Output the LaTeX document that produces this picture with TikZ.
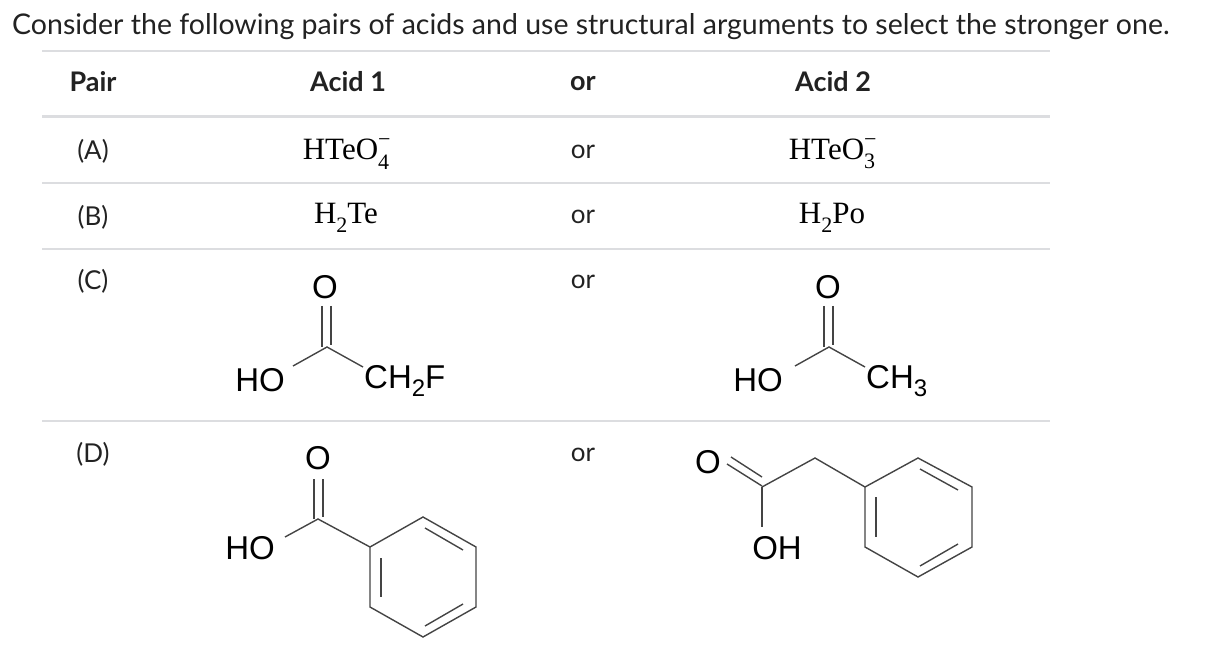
\documentclass[tikz,border=0pt]{standalone}
\usepackage{fontspec}
\setmainfont{Lato}
\newfontfamily\arialfam{Liberation Sans}
\newfontfamily\serifrm{Liberation Serif}
\definecolor{txt}{HTML}{222222}
\definecolor{rule}{HTML}{DCDDE0}
\definecolor{bond}{HTML}{444444}
\newcommand{\sbs}[1]{\raisebox{-0.3em}{\fontsize{22}{22}\selectfont #1}}
\newcommand{\sbsa}[1]{\raisebox{-0.25em}{\fontsize{24}{24}\selectfont #1}}
\begin{document}
\begin{tikzpicture}[x=1pt,y=-1pt,
  lbl/.style={font=\fontsize{26}{28}\selectfont, text=txt, inner sep=0},
  hdr/.style={font=\fontsize{27}{29}\selectfont\bfseries, text=txt, inner sep=0},
  frm/.style={font=\fontsize{31}{33}\selectfont\serifrm, text=black, inner sep=0},
  atom/.style={font=\fontsize{33}{35}\selectfont\arialfam, text=black, inner sep=0},
  bd/.style={draw=bond, line width=1.4pt},
  thin/.style={draw=rule, line width=1.2pt},
  thick/.style={draw=rule, line width=3pt}]
\useasboundingbox (0,0) rectangle (1226,668);
\node[anchor=west, font=\fontsize{28.5}{30}\selectfont, text=txt, inner sep=0] (title) at (12,27) {Consider the following pairs of acids and use structural arguments to select the stronger one.};
\draw[thin] (42,51) -- (1050,51);
\draw[thick] (42,117) -- (1050,117);
\draw[thin] (42,183) -- (1050,183);
\draw[thin] (42,249) -- (1050,249);
\draw[thin] (42,421) -- (1050,421);
\node[hdr] (h1) at (93,82) {Pair};
\node[hdr] (h2) at (348,82) {Acid 1};
\node[hdr] (h3) at (583,84) {or};
\node[hdr] (h4) at (833,82) {Acid 2};
\node[lbl] (ra) at (93,151) {(A)};
\node[lbl] (rb) at (93,217) {(B)};
\node[lbl] (rc) at (93,281) {(C)};
\node[lbl] (rd) at (93,454) {(D)};
\node[lbl] (oa) at (583,152) {or};
\node[lbl] (ob) at (583,217) {or};
\node[lbl] (oc) at (583,282) {or};
\node[lbl] (od) at (583,455) {or};
% formulas
\node[frm] (a1) at (346,154) {HTeO\rlap{\raisebox{0.42em}{\fontsize{22}{22}\selectfont\textminus}}\sbs{4}};
\node[frm] (a2) at (832,154) {HTeO\rlap{\raisebox{0.42em}{\fontsize{22}{22}\selectfont\textminus}}\sbs{3}};
\node[frm] (b1) at (346,218) {H\sbs{2}Te};
\node[frm] (b2) at (832,218) {H\sbs{2}Po};
% C left
\node[atom] (cO1) at (325,287) {O};
\node[atom] (cHO1) at (260,380) {HO};
\node[atom,anchor=west] (cF) at (364,381) {CH\sbsa{2}F};
\coordinate (cC1) at (327,347);
\draw[bd] (293,366) -- (cC1) -- (363,367);
\draw[bd] (322,306) -- (322,347) (331,306) -- (331,345);
% C right
\node[atom] (cO2) at (828,287) {O};
\node[atom] (cHO2) at (758,380) {HO};
\node[atom,anchor=west] (cM) at (866,381) {CH\sbsa{3}};
\coordinate (cC2) at (829,347);
\draw[bd] (795,366) -- (cC2) -- (865,367);
\draw[bd] (824,306) -- (824,347) (833,306) -- (833,345);
% D left
\node[atom] (dO1) at (318,458) {O};
\node[atom] (dHO1) at (250,548) {HO};
\coordinate (dC1) at (318,519);
\coordinate (r1a) at (370,547); \coordinate (r1b) at (423,517); \coordinate (r1c) at (476,547);
\coordinate (r1d) at (476,607); \coordinate (r1e) at (423,637); \coordinate (r1f) at (370,607);
\draw[bd] (285,537) -- (dC1) -- (r1a);
\draw[bd] (314,479) -- (314,519) (323,479) -- (323,517);
\draw[bd] (r1a) -- (r1b) -- (r1c) -- (r1d) -- (r1e) -- (r1f) -- cycle;
\draw[bd] (381,558) -- (381,597);
\draw[bd] (425,528) -- (463,550);
\draw[bd] (425,626) -- (463,604);
% D right
\node[atom] (dO2) at (708,462) {O};
\node[atom] (dOH2) at (777,548) {OH};
\coordinate (dC2) at (762,487);
\coordinate (dCH) at (815,458);
\coordinate (r2a) at (865,487); \coordinate (r2b) at (918,458); \coordinate (r2c) at (972,487);
\coordinate (r2d) at (972,547); \coordinate (r2e) at (918,577); \coordinate (r2f) at (865,547);
\draw[bd] (dC2) -- (dCH) -- (r2a);
\draw[bd] (dC2) -- (762,527);
\draw[bd] (727,464) -- (762,486) (731,457) -- (762,477);
\draw[bd] (r2a) -- (r2b) -- (r2c) -- (r2d) -- (r2e) -- (r2f) -- cycle;
\draw[bd] (876,497) -- (876,537);
\draw[bd] (920,469) -- (958,490);
\draw[bd] (920,566) -- (958,544);
\end{tikzpicture}
\end{document}
